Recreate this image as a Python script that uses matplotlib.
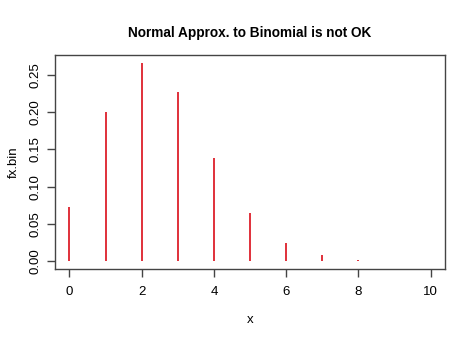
import numpy as np
import matplotlib
matplotlib.use("Agg")
import matplotlib.pyplot as plt

plt.rcParams['font.family'] = ['Liberation Sans', 'DejaVu Sans']

# binomial pmf values
x = [0, 1, 2, 3, 4, 5, 6, 7, 8, 9, 10]
fx_bin = [0.0720, 0.1998, 0.2658, 0.2267, 0.1383, 0.0646, 0.0242,
          0.0077, 0.0016, 0.0002, 0.00001]
xticks = [0, 2, 4, 6, 8, 10]
yticks = [0.00, 0.05, 0.10, 0.15, 0.20, 0.25]

fig = plt.figure(figsize=(4.74, 3.38), dpi=100)
ax = fig.add_axes([0.116, 0.204, 0.823, 0.633])

ax.vlines(x, 0, fx_bin, color='#e0303a', linewidth=1.4)

ymax = max(fx_bin)
ax.set_xlim(-0.4, 10.4)
ax.set_ylim(-0.04 * ymax, 1.04 * ymax)

ax.set_xticks(xticks)
ax.set_xticklabels([str(t) for t in xticks])
ax.set_yticks(yticks)
ax.set_yticklabels([f'{t:.2f}' for t in yticks])

for s in ax.spines.values():
    s.set_color('#444444')
    s.set_linewidth(1.0)
ax.tick_params(axis='both', length=6, width=1.0, color='#444444',
               labelsize=9.5, pad=6)
ax.tick_params(axis='y', labelrotation=90, pad=4)
for lbl in ax.get_yticklabels():
    lbl.set_verticalalignment('center')

ax.set_xlabel('x', fontsize=9.5, labelpad=12)
ax.set_ylabel('fx.bin', fontsize=9.5, labelpad=7)
ax.set_title('Normal Approx. to Binomial is not OK', fontsize=9.8,
             fontweight='bold', pad=13)

fig.savefig('out.png', dpi=100)
